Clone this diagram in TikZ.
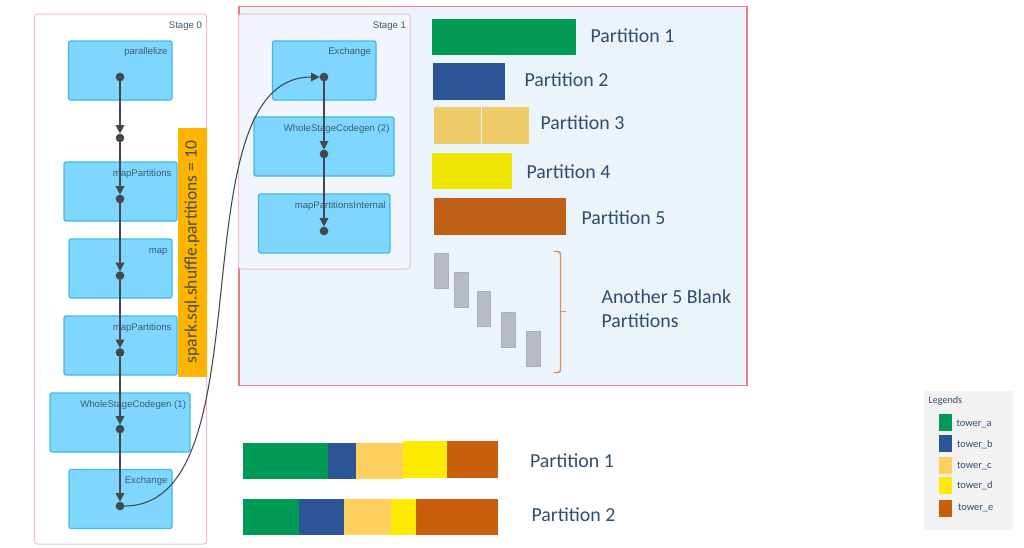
\documentclass[tikz,border=0pt]{standalone}
\usepackage{fontspec}
\setmainfont{Carlito}
\newfontfamily\dagfont{Liberation Sans}
\usetikzlibrary{arrows.meta}

\definecolor{panelfill}{HTML}{EBF3FB}
\definecolor{panelline}{HTML}{E57F7F}
\definecolor{stageline}{HTML}{EDBFC8}
\definecolor{stagefill}{HTML}{F0F6FC}
\definecolor{opfill}{HTML}{7FD6FF}
\definecolor{opline}{HTML}{3DBBE6}
\definecolor{optext}{HTML}{3B5B78}
\definecolor{edgegray}{HTML}{43484E}
\definecolor{parttext}{HTML}{2F4E6E}
\definecolor{blankfill}{HTML}{B7BCC2}
\definecolor{blankline}{HTML}{A9AFB5}
\definecolor{braceline}{HTML}{D9935A}
\definecolor{stripfill}{HTML}{FFB400}
\definecolor{striptext}{HTML}{484E3C}
\definecolor{softyellow}{HTML}{EFCB68}
\definecolor{sharpyellow}{HTML}{EEE600}
\definecolor{burnt}{HTML}{C05F17}
\definecolor{towera}{HTML}{009A55}
\definecolor{towerb}{HTML}{2B5597}
\definecolor{towerc}{HTML}{FFD05F}
\definecolor{towerd}{HTML}{FFEB00}
\definecolor{towere}{HTML}{C95F0C}

\tikzset{
  every picture/.style={line width=0.75pt},
  sized/.style 2 args={rectangle,inner sep=0pt,outer sep=0pt,minimum width=#1*0.75pt,minimum height=#2*0.75pt},
  stagebox/.style={draw=stageline,rounded corners=2pt},
  opbox/.style={draw=opline,fill=opfill,rounded corners=1.5pt,line width=0.9pt},
  oplabel/.style={anchor=east,inner sep=0pt,text=optext,font=\dagfont\fontsize{7.2}{9}\selectfont},
  dagdot/.style={circle,fill=edgegray,inner sep=0pt,outer sep=0pt,minimum size=6.5pt},
  dagedge/.style={draw=edgegray,line width=1pt,-{Triangle[length=6.5pt,width=6.5pt]}},
  partlabel/.style={anchor=west,inner sep=0pt,text=parttext,font=\fontsize{14.9}{17.6}\selectfont},
  blankbar/.style={draw=blankline,fill=blankfill},
  legendlabel/.style={anchor=west,inner sep=0pt,text=parttext,font=\fontsize{7.8}{10}\selectfont},
}

\begin{document}
\begin{tikzpicture}[x=0.75pt,y=0.75pt,yscale=-1,xscale=1]
\useasboundingbox (0,0) rectangle (1024,547);

%Panel behind stage 1 and the partitions
\node [sized={508}{379},draw=panelline,fill=panelfill,line width=1pt] (panel) at (493,196) {};

%Stage boxes
\node [sized={172}{530},stagebox] (stagezero) at (120.5,279) {};
\node [sized={171.5}{255},stagebox,fill=stagefill] (stageone) at (324.25,141.5) {};
\node [oplabel] (stagezerotext) at (202.5,26.5) {Stage 0};
\node [oplabel] (stageonetext) at (406.5,26.5) {Stage 1};

%Stage 0 operators
\node [sized={103.5}{59},opbox] (parallelize) at (120.25,70.5) {};
\node [sized={113}{59},opbox] (mapparta) at (120.5,191.5) {};
\node [sized={103}{59},opbox] (mapop) at (120.5,268.5) {};
\node [sized={113}{59},opbox] (mappartb) at (120.5,345.5) {};
\node [sized={140}{59},opbox] (wholeone) at (120,422.5) {};
\node [sized={103}{59},opbox] (exchzero) at (120.5,499) {};

%Stage 1 operators
\node [sized={103.5}{59},opbox] (exchone) at (324.25,70.5) {};
\node [sized={140}{59},opbox] (wholetwo) at (324,146.5) {};
\node [sized={131.5}{59},opbox] (mapint) at (324.25,223.5) {};

%Shuffle strip
\node [sized={29}{249},fill=stripfill] (shuffle) at (192.5,252.5) {};
\node [rotate=90,inner sep=0pt,text=striptext,font=\fontsize{13.1}{16}\selectfont] (shuffletext) at (192,252) {spark.sql.shuffle.partitions = 10};

% Text Node
\node [oplabel] (parallelizetext) at (168,52.5) {parallelize};
\node [oplabel] (mapparttexta) at (172,174.5) {mapPartitions};
\node [oplabel] (maptext) at (168,251.5) {map};
\node [oplabel] (mapparttextb) at (172,328.5) {mapPartitions};
\node [oplabel] (wholeonetext) at (186.5,405) {WholeStageCodegen (1)};
\node [oplabel] (exchzerotext) at (168,481.5) {Exchange};
\node [oplabel] (exchonetext) at (371.5,52.5) {Exchange};
\node [oplabel] (wholetwotext) at (390,129.5) {WholeStageCodegen (2)};
\node [oplabel] (mapinttext) at (386,206.5) {mapPartitionsInternal};

%Dots
\node [dagdot] (dotA) at (120,77) {};
\node [dagdot] (dotB) at (120,138) {};
\node [dagdot] (dotC) at (120,199) {};
\node [dagdot] (dotD) at (120,275.6) {};
\node [dagdot] (dotE) at (120,352.5) {};
\node [dagdot] (dotF) at (120,429) {};
\node [dagdot] (dotG) at (120,506) {};
\node [dagdot] (dotH) at (324,77) {};
\node [dagdot] (dotI) at (324,154) {};
\node [dagdot] (dotJ) at (324,231) {};

%Edges
\draw [dagedge] (dotA) -- (dotB);
\draw [dagedge] (dotB) -- (dotC);
\draw [dagedge] (dotC) -- (dotD);
\draw [dagedge] (dotD) -- (dotE);
\draw [dagedge] (dotE) -- (dotF);
\draw [dagedge] (dotF) -- (dotG);
\draw [dagedge] (dotH) -- (dotI);
\draw [dagedge] (dotI) -- (dotJ);
\draw [dagedge,line width=0.8pt] (dotG) .. controls +(150,0) and +(-150,0) .. (dotH);

%Partition bars, upper
\node [sized={144}{36},fill=towera] (barone) at (504,37) {};
\node [sized={72}{37},fill=towerb] (bartwo) at (469,81.5) {};
\node [sized={47}{37},fill=softyellow] (barthreea) at (457.5,125.5) {};
\node [sized={47.5}{37},fill=softyellow] (barthreeb) at (505.25,125.5) {};
\node [sized={80}{36},fill=sharpyellow] (barfour) at (472,171) {};
\node [sized={132}{37},fill=burnt] (barfive) at (500,216.5) {};

% Text Node
\node [partlabel] (labelone) at (590,36) {Partition 1};
\node [partlabel] (labeltwo) at (524,80) {Partition 2};
\node [partlabel] (labelthree) at (540,123) {Partition 3};
\node [partlabel] (labelfour) at (526,172) {Partition 4};
\node [partlabel] (labelfive) at (581,218) {Partition 5};

%Blank partitions
\node [sized={14}{35},blankbar] (blanka) at (441,270.5) {};
\node [sized={14}{35},blankbar] (blankb) at (461,289.5) {};
\node [sized={13.5}{35},blankbar] (blankc) at (483.75,308.5) {};
\node [sized={13.5}{35},blankbar] (blankd) at (508.5,329.5) {};
\node [sized={13.5}{35},blankbar] (blanke) at (533.5,348.5) {};

%Brace
\coordinate (bracetop) at (554,251.5);
\coordinate (bracebot) at (554,372.5);
\coordinate (bracemid) at (560.5,311.5);
\coordinate (bracetip) at (566,311.5);
\draw [draw=braceline,line width=1.1pt,rounded corners=2pt] (bracetop) -| (bracemid) |- (bracebot);
\draw [draw=braceline,line width=1.1pt] (bracemid) -- (bracetip);

\node [partlabel,align=left] (blanktext) at (601,308.5) {Another 5 Blank\\Partitions};

%Partition bars, lower
\node [sized={85}{36},fill=towera] (lowaa) at (285.5,460.5) {};
\node [sized={27.5}{36},fill=towerb] (lowab) at (341.75,460.5) {};
\node [sized={47.5}{36},fill=towerc] (lowac) at (379.25,460.5) {};
\node [sized={44}{37},fill=towerd] (lowad) at (425,459.5) {};
\node [sized={51}{37},fill=towere] (lowae) at (472.5,459.5) {};
\node [sized={56}{36},fill=towera] (lowba) at (271,517) {};
\node [sized={44.5}{36},fill=towerb] (lowbb) at (321.25,517) {};
\node [sized={46.5}{36},fill=towerc] (lowbc) at (367.25,517) {};
\node [sized={26}{36},fill=towerd] (lowbd) at (403.5,517) {};
\node [sized={82}{36},fill=towere] (lowbe) at (457,517) {};

% Text Node
\node [partlabel] (lowlabela) at (529.5,461) {Partition 1};
\node [partlabel] (lowlabelb) at (531,515) {Partition 2};

%Legend
\node [sized={89}{139},fill=black!5!white] (legend) at (968.5,460.5) {};
\node [anchor=west,inner sep=0pt,text=parttext,font=\fontsize{7.6}{10}\selectfont] (legendtitle) at (928,401) {Legends};
\node [sized={13}{17},fill=towera] (swatcha) at (945.5,422.5) {};
\node [sized={13}{17},fill=towerb] (swatchb) at (945.5,443.5) {};
\node [sized={13}{17},fill=towerc] (swatchc) at (945.5,465.5) {};
\node [sized={13}{17},fill=towerd] (swatchd) at (945.5,485.5) {};
\node [sized={13}{17},fill=towere] (swatche) at (945.5,508.5) {};
\node [legendlabel] (legenda) at (956,424) {tower\_a};
\node [legendlabel] (legendb) at (956.5,445) {tower\_b};
\node [legendlabel] (legendc) at (956.5,466) {tower\_c};
\node [legendlabel] (legendd) at (956.5,486) {tower\_d};
\node [legendlabel] (legende) at (957.5,508) {tower\_e};

\end{tikzpicture}
\end{document}
